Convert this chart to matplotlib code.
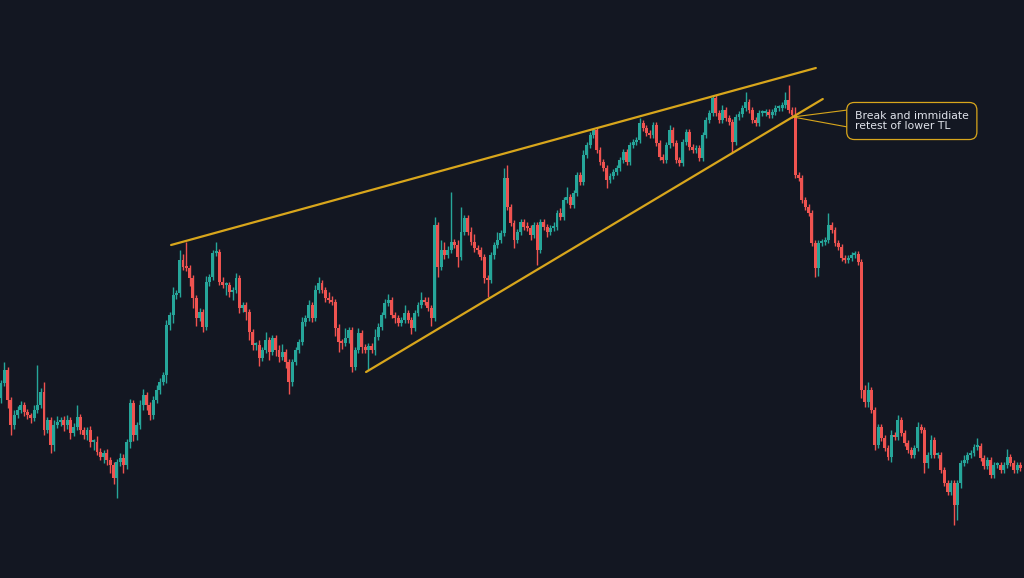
import matplotlib
matplotlib.use("Agg")
import matplotlib.pyplot as plt
import numpy as np

## candle closes left to right (price units)
closes_a = [217, 230, 200, 175, 185, 190, 195, 188, 185, 182, 190, 195, 208, 170, 180, 155, 175, 178, 180, 175,
            180, 167, 173, 183, 170, 165, 170, 158, 158, 148, 143, 147, 140, 135, 122, 138, 142, 135, 158, 197]
closes_b = [165, 175, 195, 205, 195, 185, 200, 210, 218, 225, 275, 285, 305, 307, 340, 333, 332, 322, 302, 282,
            288, 273, 318, 323, 347, 348, 318, 315, 315, 308, 310, 322, 292, 295, 288, 268, 255]
closes_c = [255, 242, 250, 260, 248, 262, 250, 243, 248, 238, 218, 238, 250, 258, 278, 282, 295, 282, 310, 317,
            310, 302, 300, 298, 272, 258, 257, 262, 270, 233, 250, 267, 253, 250, 254, 250, 263, 273]
closes_d = [285, 297, 300, 285, 282, 277, 280, 287, 280, 272, 287, 295, 300, 298, 292, 282, 375, 333, 350, 345,
            350, 358, 355, 343, 368, 382, 368, 358, 352, 350, 343, 322, 320, 345, 355, 360, 367, 422]
closes_e = [393, 377, 360, 368, 378, 373, 372, 365, 375, 350, 378, 373, 368, 372, 373, 387, 383, 400, 403, 395,
            407, 425, 418, 445, 455, 465, 470, 450, 438, 432, 420, 424, 428, 432, 440, 448, 438, 455, 458, 460,
            477, 472, 467, 465, 475, 457, 443, 440, 455, 470, 457, 440, 437, 458, 468, 453, 450, 452, 442, 465,
            480, 487, 502, 487, 480, 490, 482, 478, 458, 483, 486, 492, 498, 490, 480, 477, 487, 487, 488, 485,
            488, 492, 492, 495, 500, 490, 485]
closes_f = [425, 422, 400, 393, 387, 357, 332, 357, 358, 360, 375, 370, 357, 353, 342, 340, 342, 345, 346, 338,
            210, 198, 210, 190, 155, 173, 162, 152, 143, 165, 163, 180, 167, 157, 150, 145, 152, 173, 170, 137,
            145, 160, 145, 145, 130, 117, 108, 117, 95, 117, 137, 140, 145, 147, 153, 154, 142, 134, 140, 125,
            135, 135, 130, 135, 143, 137, 130, 135, 132]
first_open = 202

## wick lengths above / below the body
upper_wick = [3, 8, 3, 3, 5, 4, 4, 3, 3, 2, 5, 40, 4, 10, 3, 3, 5, 6, 3, 4, 5, 3, 4, 12, 3, 3, 3, 4, 3, 6,
              4, 3, 4, 3, 3, 3, 5, 4, 3, 4,
              3, 3, 5, 6, 3, 3, 4, 5, 4, 3, 5, 3, 8, 3, 10, 6, 25, 3, 3, 3, 4, 3, 6, 3, 3, 10, 3, 5, 3, 3,
              3, 5, 3, 3, 3, 3, 3,
              3, 5, 3, 8, 3, 3, 3, 5, 8, 3, 3, 3, 3, 3, 5, 3, 5, 3, 5, 6, 3, 3, 6, 4, 3, 4, 3, 10, 3, 3,
              3, 5, 3, 3, 3, 3, 8, 4,
              3, 4, 6, 3, 3, 3, 3, 8, 3, 3, 3, 3, 8, 3, 5, 3, 8, 3, 10, 8, 4, 50, 3, 5, 25, 3, 3, 5, 8, 3,
              3, 3, 3, 3, 3, 8, 3, 10,
              13, 3, 3, 3, 3, 3, 5, 3, 3, 3, 3, 3, 3, 3, 5, 3, 5, 3, 10, 3, 3, 3, 3, 5, 3, 3, 2, 3, 3, 3,
              3, 3, 3, 3, 3, 3, 3, 3, 3, 3, 5, 3, 3, 3, 3, 3, 3, 3, 3, 5, 3, 3, 3, 3, 3, 3, 3, 3, 3, 3,
              3, 3, 3, 3, 3, 5, 3, 3, 3, 3, 3, 3, 10, 3, 3, 3, 3, 3, 3, 3, 3, 3, 3, 3, 8, 15, 3,
              8, 3, 3, 3, 3, 3, 3, 3, 3, 3, 12, 3, 3, 3, 3, 3, 3, 3, 3, 3, 3, 5, 8, 3, 3, 3, 3, 3, 3, 5,
              3, 5, 3, 3, 3, 3, 3, 5, 3, 3, 3, 5, 3, 3, 3, 3, 3, 3, 3, 3, 3, 5, 3, 3, 3, 8, 3, 3, 3, 3,
              3, 3, 3, 3, 8, 3, 3, 3, 3]
lower_wick = [5, 3, 8, 10, 4, 3, 3, 4, 4, 5, 3, 3, 3, 5, 3, 8, 6, 3, 4, 6, 4, 6, 3, 3, 4, 4, 5, 5, 8, 3,
              3, 6, 5, 8, 6, 20, 4, 8, 4, 6,
              6, 5, 4, 5, 5, 5, 4, 3, 4, 3, 8, 5, 8, 4, 4, 3, 3, 8, 10, 8, 3, 5, 3, 4, 3, 3, 3, 3, 10, 5,
              8, 3, 5, 4, 8, 8, 5,
              5, 8, 3, 3, 8, 3, 6, 5, 3, 6, 12, 4, 3, 3, 3, 4, 3, 4, 3, 3, 3, 4, 3, 3, 8, 10, 6, 3, 5, 5,
              3, 3, 6, 3, 20, 3, 5, 3,
              3, 3, 3, 3, 5, 3, 3, 3, 3, 6, 3, 3, 3, 3, 3, 8, 3, 10, 3, 4, 3, 3, 3, 10, 3, 3, 3, 3, 4, 4,
              3, 5, 17, 3, 4, 3, 3, 3,
              3, 3, 8, 3, 3, 3, 3, 5, 3, 15, 3, 3, 5, 3, 3, 3, 3, 3, 3, 3, 3, 3, 3, 3, 3, 3, 3, 3, 3, 3,
              8, 3, 3, 3, 3, 3, 3, 3, 3, 3, 3, 3, 3, 3, 3, 3, 3, 3, 3, 3, 3, 3, 3, 3, 3, 3, 3, 3, 3, 3,
              3, 3, 3, 3, 3, 3, 3, 3, 10, 3, 3, 3, 3, 3, 3, 3, 3, 3, 3, 3, 3, 3, 3, 3, 3, 3, 3,
              3, 3, 3, 3, 3, 3, 9, 8, 3, 3, 3, 3, 3, 3, 3, 3, 3, 3, 3, 3, 8, 5, 5, 3, 5, 3, 3, 3, 3, 5,
              3, 3, 3, 3, 3, 3, 3, 3, 3, 10, 5, 3, 3, 3, 3, 3, 3, 3, 20, 15, 5, 3, 3, 3, 3, 3, 3, 3, 3, 3,
              3, 3, 3, 3, 3, 3, 3, 3, 3]

## trendlines (candle index, price) and the note
upper_tl = ([51.4, 246.2], [355, 532])
lower_tl = ([110.3, 248.3], [228, 501])
note_text = "Break and immidiate\nretest of lower TL"
note_point = (239.3, 483)

BG = "#131722"
UP = "#26a69a"
DOWN = "#ef5350"
GOLD = "#d8a61c"

closes = np.array(closes_a + closes_b + closes_c + closes_d + closes_e + closes_f, dtype=float)
opens = np.concatenate([[first_open], closes[:-1]])
uw = np.array(upper_wick, dtype=float)
lw = np.array(lower_wick, dtype=float)
highs = np.maximum(opens, closes) + uw
lows = np.minimum(opens, closes) - lw
idx = np.arange(len(closes))
colors = np.where(closes >= opens, UP, DOWN)

fig = plt.figure(figsize=(10.24, 5.78), dpi=100, facecolor=BG)
ax = fig.add_axes([0, 0, 1, 1])
ax.set_facecolor(BG)

## wicks then bodies
ax.vlines(idx, lows, highs, colors=colors, linewidth=1.0, zorder=2)
body_h = np.maximum(np.abs(closes - opens), 1.8)
ax.bar(idx, body_h, bottom=np.minimum(opens, closes), width=0.88, color=colors, linewidth=0, zorder=3)

## trendlines
ax.plot(upper_tl[0], upper_tl[1], color=GOLD, linewidth=1.6, zorder=4, solid_capstyle="round")
ax.plot(lower_tl[0], lower_tl[1], color=GOLD, linewidth=1.6, zorder=4, solid_capstyle="round")

## callout box
box_x = 258.0
box_y = 479.0
ax.plot([note_point[0], 255.8], [note_point[1], 490], color=GOLD, linewidth=0.8, zorder=4)
ax.plot([note_point[0], 255.8], [note_point[1], 473], color=GOLD, linewidth=0.8, zorder=4)
ax.text(box_x, box_y, note_text, color="#e0e3eb", fontsize=7.8, va="center", ha="left",
        linespacing=1.1, zorder=6,
        bbox=dict(boxstyle="round,pad=0.75,rounding_size=0.7", facecolor=BG, edgecolor=GOLD, linewidth=0.9))

ax.set_xlim(-0.3, 309.1)
ax.set_ylim(22, 600)
ax.axis("off")

plt.savefig("out.png", dpi=100, facecolor=BG)
